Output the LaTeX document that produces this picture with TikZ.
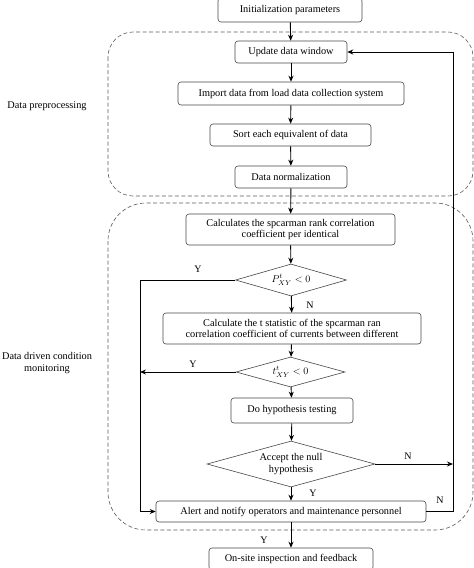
\documentclass[tikz,border=0pt]{standalone}
\usepackage{fontspec}
\setmainfont{Liberation Serif}
\usepackage{amsmath}
\usetikzlibrary{arrows.meta, positioning, calc, shapes.geometric}
\definecolor{boxgray}{RGB}{70, 70, 70}
\definecolor{dashgray}{RGB}{90, 90, 90}

\begin{document}
\begin{tikzpicture}[x=1pt, y=-1pt,
  every node/.style={font=\fontsize{10.3}{11.5}\selectfont},
  procbox/.style={draw=boxgray, line width=0.6pt, rounded corners=3pt, align=center, inner sep=1pt},
  testbox/.style={draw=boxgray, line width=0.6pt, diamond, aspect=3.6, align=center, inner sep=0pt},
  flow/.style={-{Stealth[length=6pt, width=5pt]}, line width=0.9pt},
  lbl/.style={font=\fontsize{10}{11}\selectfont},
  group/.style={dashed, dash pattern=on 4pt off 2.5pt, dashgray, line width=0.6pt}]
  \useasboundingbox (0,0) rectangle (474,568);

  %% GROUP FRAMES
  \draw[group, rounded corners=25pt] (108,32) rectangle (473,196);
  \draw[group, rounded corners=38pt] (108,203) rectangle (473,530);
  \node (grpA) at (47,106) {Data preprocessing};
  \node[align=center] (grpB) at (47,363) {Data driven condition\\monitoring};

  %% PREPROCESSING STEPS
  \node[procbox, minimum width=144pt, minimum height=24pt] (init) at (290,10) {Initialization parameters};
  \node[procbox, minimum width=112pt, minimum height=22pt] (update) at (291,52) {Update data window};
  \node[procbox, minimum width=226pt, minimum height=23pt] (import) at (291,93.5) {Import data from load data collection system};
  \node[procbox, minimum width=161pt, minimum height=22pt] (sort) at (290.5,135) {Sort each equivalent of data};
  \node[procbox, minimum width=112pt, minimum height=22pt] (norm) at (291,177) {Data normalization};

  %% MONITORING STEPS
  \node[procbox, minimum width=209pt, minimum height=31pt] (spear) at (290.5,229.5)
    {Calculates the spcarman rank correlation\\coefficient per identical};
  \node[testbox, minimum width=111pt, minimum height=32pt] (test1) at (291,280) {$P^{t}_{XY} < 0$};
  \node[procbox, minimum width=258pt, minimum height=31pt] (tstat) at (292,328.5)
    {Calculate the t statistic of the spcarman ran\\correlation coefficient of currents between different};
  \node[testbox, minimum width=109pt, minimum height=30pt] (test2) at (290.5,372) {$t^{t}_{XY} < 0$};
  \node[procbox, minimum width=122pt, minimum height=25pt] (hypo) at (292,410.5) {Do hypothesis testing};
  \node[testbox, minimum width=168pt, minimum height=46pt] (test3) at (291,464) {Accept the null\\hypothesis};
  \node[procbox, minimum width=270pt, minimum height=21pt] (alert) at (291,511.5)
    {Alert and notify operators and maintenance personnel};
  \node[procbox, minimum width=164pt, minimum height=22pt] (site) at (291,559) {On-site inspection and feedback};

  %% side rails
  \coordinate (leftrail) at (140,0);
  \coordinate (rightrail) at (453,0);

  %% main flow
  \draw[flow] (init) -- (update);
  \draw[flow] (update) -- (import);
  \draw[flow] (import) -- (sort);
  \draw[flow] (sort) -- (norm);
  \draw[flow] (norm) -- (spear);
  \draw[flow] (spear) -- (test1);
  \draw[flow] (test1) -- (tstat);
  \draw[flow] (tstat) -- (test2);
  \draw[flow] (test2) -- (hypo);
  \draw[flow] (hypo) -- (test3);
  \draw[flow] (test3) -- (alert);
  \draw[flow] (alert) -- (site);

  %% branches
  \draw[flow] (test1.west) -- (test1.west -| leftrail) -- (alert.west -| leftrail) -- (alert.west);
  \draw[flow] (test2.west) -- (test2.west -| leftrail);
  \draw[flow] (test3.east) -- (test3.east -| rightrail);
  \draw[flow] (alert.east) -- (alert.east -| rightrail) -- (update.east -| rightrail) -- (update.east);

  %% Y / N labels
  \node[lbl] (y1) at (198,269) {Y};
  \node[lbl] (n1) at (310,305) {N};
  \node[lbl] (y2) at (193,364) {Y};
  \node[lbl] (n3) at (408,456) {N};
  \node[lbl] (y3) at (313,493) {Y};
  \node[lbl] (n4) at (440,500) {N};
  \node[lbl] (y4) at (264,540) {Y};
\end{tikzpicture}
\end{document}
